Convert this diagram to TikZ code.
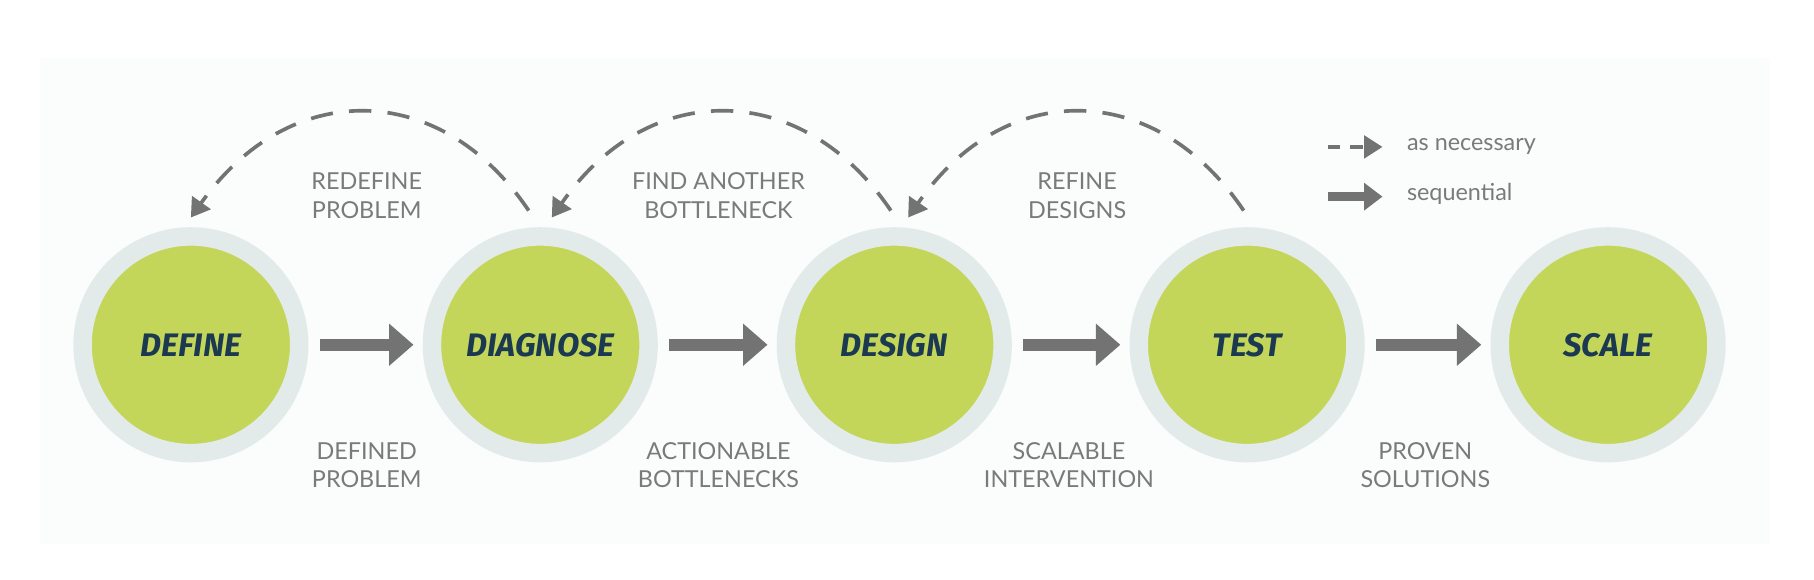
\documentclass[tikz,border=0pt]{standalone}
\usepackage{fontspec}
\setmainfont{Lato}
\newfontfamily\headfont{Fira Sans}
\usetikzlibrary{arrows.meta}
\definecolor{cgreen}{HTML}{C4D65A}
\definecolor{cring}{HTML}{E3EAEA}
\definecolor{cnavy}{HTML}{1B3A52}
\definecolor{carrow}{HTML}{737373}
\definecolor{ctext}{HTML}{7A7A7A}
\definecolor{cbg}{HTML}{FBFCFC}
\tikzset{
  stage/.style={circle,fill=cgreen,draw=cring,line width=16*0.567pt,minimum size=188*0.567pt,inner sep=0pt,
    font=\headfont\fontsize{16}{18}\selectfont\bfseries\itshape,text=cnavy},
  lbl/.style={align=center,text=ctext,font=\fontsize{11.5}{14}\selectfont},
  seq/.style={carrow,line width=10*0.567pt,-{Triangle[length=12pt,width=20pt]},shorten <=10*0.567pt,shorten >=8*0.567pt},
  nec/.style={carrow,line width=1.8pt,dash pattern=on 11pt off 8pt,-{Triangle[length=9pt,width=11pt]}},
}
\begin{document}
\begin{tikzpicture}[x=0.02cm,y=-0.02cm]
\useasboundingbox (0,0) rectangle (1568,501);
\fill[cbg] (35,50) rectangle (1530,470);
\node[stage] (define) at (165,298) {DEFINE};
\node[stage] (diagnose) at (467,298) {DIAGNOSE};
\node[stage] (design) at (773,298) {DESIGN};
\node[stage] (test) at (1078,298) {TEST};
\node[stage] (scale) at (1390,298) {SCALE};
\draw[seq] (define) -- (diagnose);
\draw[seq] (diagnose) -- (design);
\draw[seq] (design) -- (test);
\draw[seq] (test) -- (scale);
\node[lbl] (l1) at (317,402) {DEFINED\\PROBLEM};
\node[lbl] (l2) at (621,402) {ACTIONABLE\\BOTTLENECKS};
\node[lbl] (l3) at (924,402) {SCALABLE\\INTERVENTION};
\node[lbl] (l4) at (1232,402) {PROVEN\\SOLUTIONS};
\node[lbl] (u1) at (317,169) {REDEFINE\\PROBLEM};
\node[lbl] (u2) at (621,169) {FIND ANOTHER\\BOTTLENECK};
\node[lbl] (u3) at (931,169) {REFINE\\DESIGNS};
\coordinate (s1) at (457,182); \coordinate (e1) at (165,188);
\coordinate (s2) at (770,182); \coordinate (e2) at (477,188);
\coordinate (s3) at (1075,182); \coordinate (e3) at (785,188);
\draw[nec] (s1) .. controls (380,68) and (250,68) .. (e1);
\draw[nec] (s2) .. controls (693,68) and (560,68) .. (e2);
\draw[nec] (s3) .. controls (998,68) and (868,68) .. (e3);
\coordinate (k1) at (1148,127); \coordinate (k2) at (1195,127);
\coordinate (k3) at (1148,170); \coordinate (k4) at (1195,170);
\draw[nec,dash pattern=on 6pt off 5pt] (k1) -- (k2);
\draw[carrow,line width=4.5pt,-{Triangle[length=9pt,width=13pt]}] (k3) -- (k4);
\node[lbl,anchor=west] (t1) at (1210,127) {as necessary};
\node[lbl,anchor=west] (t2) at (1210,168) {sequential};
\end{tikzpicture}
\end{document}
